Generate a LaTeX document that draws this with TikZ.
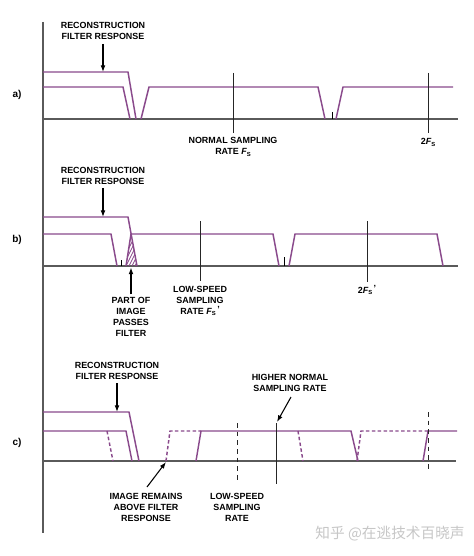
\documentclass[tikz,border=0pt]{standalone}
\usepackage{fontspec}
\setmainfont{Liberation Sans}
\newfontfamily\cjk{Noto Sans CJK SC}
\usetikzlibrary{arrows.meta}
\definecolor{filt}{HTML}{8A4A8C}
\definecolor{axisc}{HTML}{5A5A5A}
\newcommand{\Fs}{{\itshape F}\raisebox{-0.35ex}{\fontsize{4.4}{5}\selectfont S}}
\begin{document}
\begin{tikzpicture}[x=0.75pt,y=-0.75pt,
  resp/.style={draw=filt, line width=1.1pt, line join=miter},
  dashresp/.style={resp, dash pattern=on 2.6pt off 1.8pt},
  base/.style={draw=axisc, line width=1.4pt},
  marker/.style={draw=black!85, line width=0.75pt},
  tick/.style={draw=black, line width=0.6pt},
  lbl/.style={font=\bfseries\fontsize{6.7}{8.25}\selectfont, align=center, inner sep=0pt},
  panel/.style={font=\bfseries\fontsize{7.5}{9}\selectfont, inner sep=0pt},
  pointer/.style={-{Latex[length=5pt,width=3.6pt]}, line width=0.8pt}]
\useasboundingbox (0,0) rectangle (474,556);
\fill[white] (0,0) rectangle (474,556);

% axis
\draw[base] (43,22) -- (43,533);

% ---------------- panel a
\node[panel] (pa) at (17,95) {a)};
\draw[base] (43,119) -- (458,119);
\draw[resp] (43,72) -- (128,72) -- (136,119);
\draw[resp] (43,87) -- (123,87) -- (130,119);
\draw[resp] (141,119) -- (149,87) -- (318,87) -- (325,119);
\draw[tick] (332,112) -- (332,119);
\draw[resp] (336,119) -- (343,87) -- (453,87);
\draw[marker] (233,73) -- (233,133);
\draw[marker] (428,73) -- (428,133);
\node[lbl] (recA) at (103,31) {RECONSTRUCTION\\FILTER RESPONSE};
\coordinate (tipA) at (103,72);
\draw[pointer] ([yshift=-3pt]recA.south) -- (tipA);
\node[lbl] (nsr) at (233,147) {NORMAL SAMPLING\\RATE \Fs};
\node[lbl] (tfs) at (428,142.5) {2\Fs};

% ---------------- panel b
\node[panel] (pb) at (17,240) {b)};
\draw[base] (43,266) -- (458,266);
\begin{scope}
  \clip (126,266) -- (131,234) -- (137,266) -- cycle;
  \foreach \i in {100,103,...,140}
    \draw[filt, line width=0.6pt] (\i,270) -- ++(20,-40);
\end{scope}
\draw[resp] (43,217) -- (128,217) -- (137,266);
\draw[resp] (43,234) -- (111,234) -- (117,266);
\draw[tick] (121,260) -- (121,266);
\draw[resp] (126,266) -- (131,234) -- (273,234) -- (279,266);
\draw[tick] (284,257) -- (284,266);
\draw[resp] (289,266) -- (295,234) -- (437,234) -- (443,266);
\draw[marker] (200,221) -- (200,281);
\draw[marker] (367,221) -- (367,282);
\node[lbl] (recB) at (103,175.5) {RECONSTRUCTION\\FILTER RESPONSE};
\coordinate (tipB) at (103,217);
\draw[pointer] ([yshift=-3pt]recB.south) -- (tipB);
\node[lbl] (lss) at (200,301) {LOW-SPEED\\SAMPLING\\RATE \Fs\,\raisebox{0.4ex}{'}};
\node[lbl] (tfsb) at (367,290) {2\Fs\,\raisebox{0.4ex}{'}};
\node[lbl] (part) at (131,317) {PART OF\\IMAGE\\PASSES\\FILTER};
\coordinate (tipP) at (131,267.5);
\draw[pointer] ([yshift=2pt]part.north) -- (tipP);

% ---------------- panel c
\node[panel] (pc) at (17,443) {c)};
\draw[base] (43,461) -- (456,461);
\draw[resp] (43,412) -- (129,412) -- (139,461);
\draw[resp] (43,431) -- (126,431) -- (132,461);
\draw[dashresp] (107,431) -- (113,461);
\draw[dashresp] (166,461) -- (170,431) -- (201,431);
\draw[resp] (196,461) -- (201,431) -- (351,431) -- (358,461);
\draw[dashresp] (298,431) -- (303,461);
\draw[dashresp] (357,461) -- (361,431) -- (428,431);
\draw[resp] (423,461) -- (428,431) -- (457,431);
\draw[marker, dash pattern=on 3.5pt off 3pt] (428,412) -- (428,471);
\draw[marker, dash pattern=on 3.5pt off 3pt] (237,423) -- (237,480);
\draw[marker] (276,423) -- (276,484);
\node[lbl] (recC) at (117,370.5) {RECONSTRUCTION\\FILTER RESPONSE};
\coordinate (tipC) at (117,412);
\draw[pointer] ([yshift=-3pt]recC.south) -- (tipC);
\node[lbl] (hns) at (290,382.5) {HIGHER NORMAL\\SAMPLING RATE};
\coordinate (tipH) at (277,422);
\draw[pointer] (291,397) -- (tipH);
\node[lbl] (lssc) at (237,507.5) {LOW-SPEED\\SAMPLING\\RATE};
\node[lbl] (irm) at (146,507.5) {IMAGE REMAINS\\ABOVE FILTER\\RESPONSE};
\coordinate (tipI) at (166,462);
\draw[pointer] (147,487) -- (tipI);

% watermark
\node[text=black!22, font=\cjk\fontsize{11}{12}\selectfont, inner sep=0pt] (wm) at (390,534) {知乎 @在逃技术百晓声};
\end{tikzpicture}
\end{document}
